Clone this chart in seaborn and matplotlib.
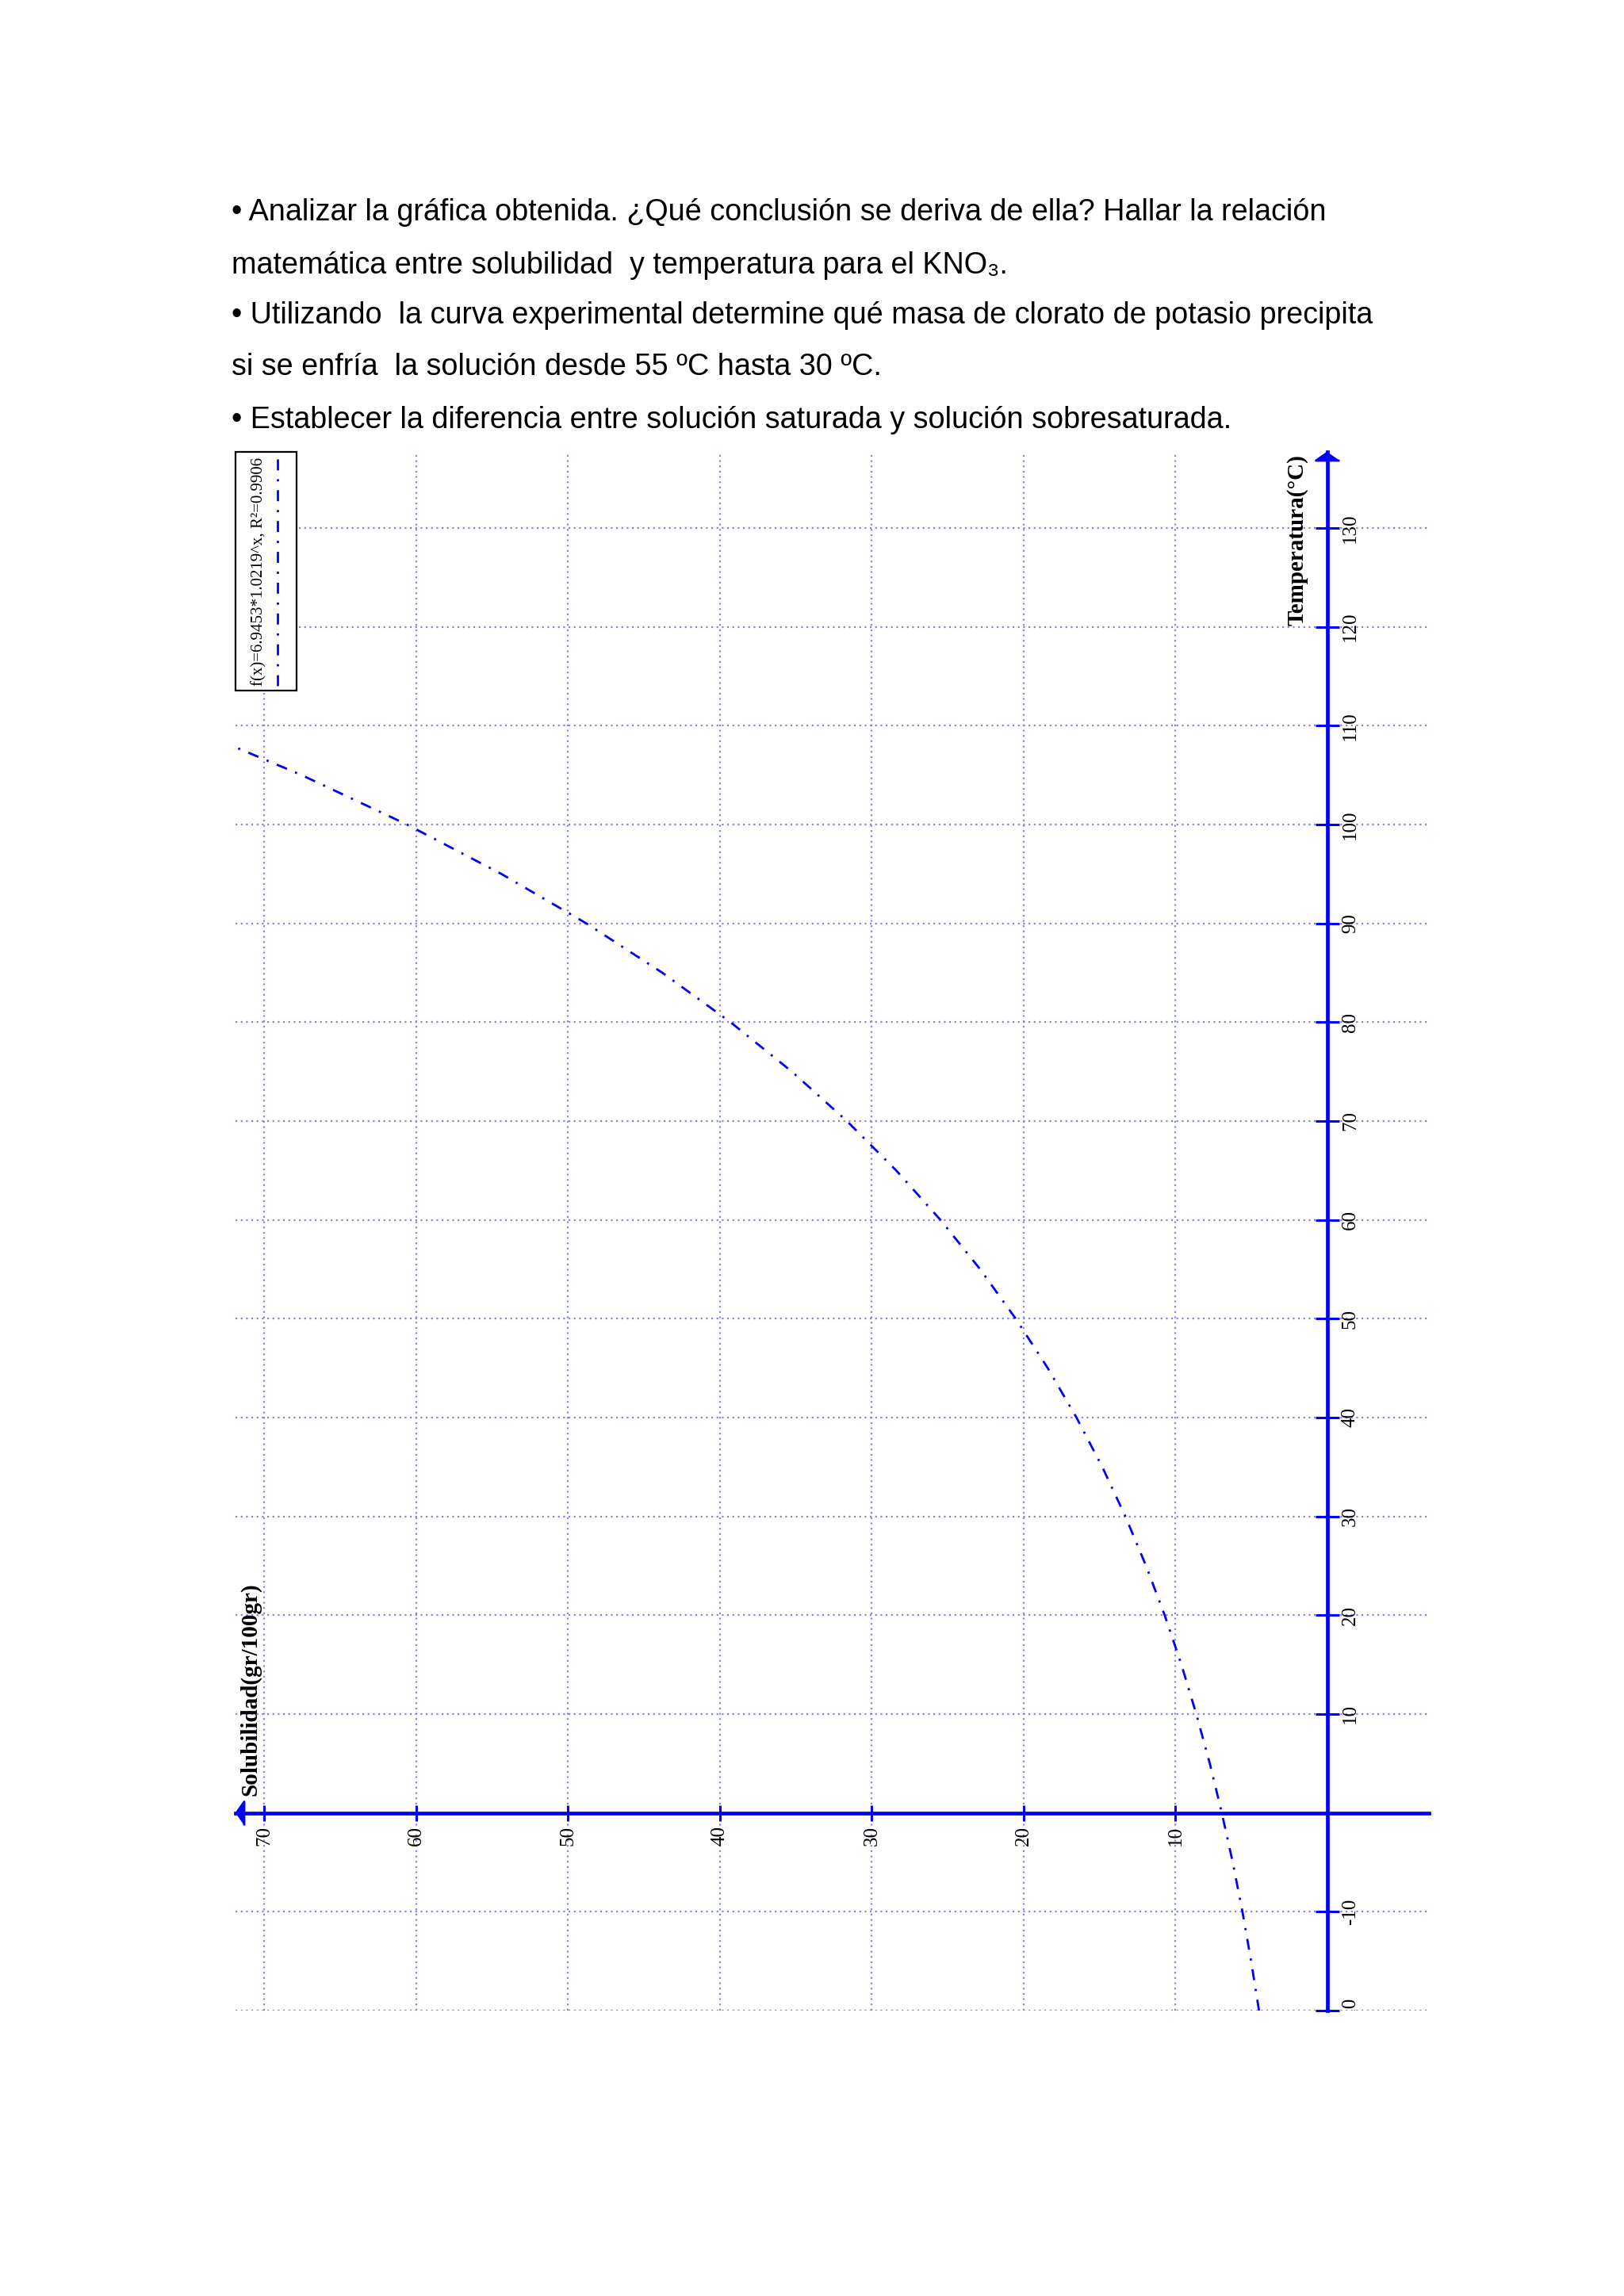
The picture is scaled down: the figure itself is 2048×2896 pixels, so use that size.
import numpy as np
import pandas as pd
import matplotlib
matplotlib.use("Agg")
import matplotlib.pyplot as plt
import seaborn as sns
from matplotlib.patches import Rectangle
from matplotlib.lines import Line2D

# =============================
# DATA
# =============================
temperatura = [-20, -15, -10, -5, 0, 5, 10, 15, 20, 25, 30, 35, 40, 45, 50,
               55, 60, 65, 70, 75, 80, 85, 90, 95, 100, 105, 110]
solubilidad = [4.50, 5.02, 5.59, 6.23, 6.95, 7.74, 8.63, 9.61, 10.71, 11.94,
               13.30, 14.82, 16.52, 18.41, 20.52, 22.86, 25.48, 28.39, 31.64,
               35.26, 39.30, 43.79, 48.80, 54.39, 60.61, 67.54, 75.27]

sol_ticks = [10, 20, 30, 40, 50, 60, 70]
temp_ticks = [-20, -10, 10, 20, 30, 40, 50, 60, 70, 80, 90, 100, 110, 120, 130]

legend_label = "f(x)=6.9453*1.0219^x, R²=0.9906"
x_label = "Solubilidad(gr/100gr)"
y_label = "Temperatura(°C)"

texto = [
    "• Analizar la gráfica obtenida. ¿Qué conclusión se deriva de ella? Hallar la relación",
    "matemática entre solubilidad  y temperatura para el KNO₃.",
    "• Utilizando  la curva experimental determine qué masa de clorato de potasio precipita",
    "si se enfría  la solución desde 55 ºC hasta 30 ºC.",
    "• Establecer la diferencia entre solución saturada y solución sobresaturada.",
]

df = pd.DataFrame({"sol": solubilidad, "temp": temperatura})

# =============================
# STYLE
# =============================
sns.set_style("white")
plt.rcParams["font.family"] = ["Liberation Serif", "DejaVu Serif"]
plt.rcParams["text.color"] = "black"
plt.rcParams["xtick.color"] = "black"
plt.rcParams["ytick.color"] = "black"

BLUE = "#0000ff"
GRID = "#8484ee"

fig = plt.figure(figsize=(10.24, 14.48), dpi=200)
ax = fig.add_axes([297 / 2048, 1 - 2536 / 2896, 1505 / 2048, 1966 / 2896])

XMIN, XMAX = 71.9, -6.69
YMIN, YMAX = -20, 137.7

# =============================
# CURVE
# =============================
sns.lineplot(data=df, x="sol", y="temp", ax=ax, color=BLUE, linewidth=1.0,
             linestyle=(0, (5, 4, 1, 4)), zorder=3)

ax.set_xlim(XMIN, XMAX)
ax.set_ylim(YMIN, YMAX)

# =============================
# AXES THROUGH THE ORIGIN
# =============================
for s in ["left", "top"]:
    ax.spines[s].set_visible(False)
ax.spines["right"].set_position(("data", 0))
ax.spines["bottom"].set_position(("data", 0))
for s in ["right", "bottom"]:
    ax.spines[s].set_color(BLUE)
    ax.spines[s].set_linewidth(1.7)
    ax.spines[s].set_zorder(4)

ax.yaxis.set_ticks_position("right")
ax.xaxis.set_ticks_position("bottom")
ax.set_xticks(sol_ticks)
ax.set_yticks(temp_ticks)
ax.set_xticklabels([str(v) for v in sol_ticks], rotation=90, va="top", ha="center")
ax.set_yticklabels([str(v) for v in temp_ticks], rotation=90, va="center", ha="left")
ax.tick_params(axis="both", direction="inout", width=1.1, color=BLUE,
               labelsize=9, labelcolor="black")
ax.tick_params(axis="x", length=7.5, pad=2)
ax.tick_params(axis="y", length=11, pad=1)
ax.set_xlabel("")
ax.set_ylabel("")

ax.grid(True, linestyle=(0, (1, 2)), color=GRID, linewidth=0.8, zorder=0)
ax.set_axisbelow(True)

# clip the tick labels to the plot box (the -20 label is cut in half)
for t in ax.yaxis.get_major_ticks() + ax.xaxis.get_major_ticks():
    t.label1.set_clip_box(ax.bbox)
    t.label2.set_clip_box(ax.bbox)
    t.label1.set_clip_on(True)
    t.label2.set_clip_on(True)

# arrow heads
up = [(0, 0), (-1, -0.7), (1, -0.7)]
left = [(0, 0), (0.7, 1), (0.7, -1)]
ax.plot([0], [YMAX], marker=up, ms=10.8, color=BLUE, clip_on=False, zorder=5)
ax.plot([XMIN], [0], marker=left, ms=10.8, color=BLUE, clip_on=False, zorder=5)

# axis titles
fig.text(1650 / 2048, 1 - 573 / 2896, y_label, rotation=90, ha="right", va="top",
         fontsize=10.5, fontweight="bold")
fig.text(302 / 2048, 1 - 2265 / 2896, x_label, rotation=90, ha="left", va="bottom",
         fontsize=10.5, fontweight="bold")

# =============================
# LEGEND BOX (rotated)
# =============================
ax.add_patch(Rectangle((0.0, 0.8469), 0.0512, 0.1531, transform=ax.transAxes,
                       facecolor="white", edgecolor="black", linewidth=0.8,
                       zorder=6, clip_on=False))
ax.text(0.0199, 0.9232, legend_label, transform=ax.transAxes, rotation=90,
        ha="center", va="center", fontsize=7.5, zorder=7)
ax.add_line(Line2D([0.0352, 0.0352], [0.8499, 0.9980], transform=ax.transAxes,
                   color=BLUE, linewidth=1.0, linestyle=(0, (5, 4, 1, 4)),
                   zorder=7, clip_on=False))

# =============================
# TEXT ABOVE THE CHART
# =============================
baselines = [278, 345, 408, 473, 540]
for line, yb in zip(texto, baselines):
    fig.text(292 / 2048, 1 - yb / 2896, line, ha="left", va="baseline",
             fontsize=13.6, family=["Liberation Sans", "DejaVu Sans"])

fig.savefig("out.png", dpi=200, facecolor="white")
